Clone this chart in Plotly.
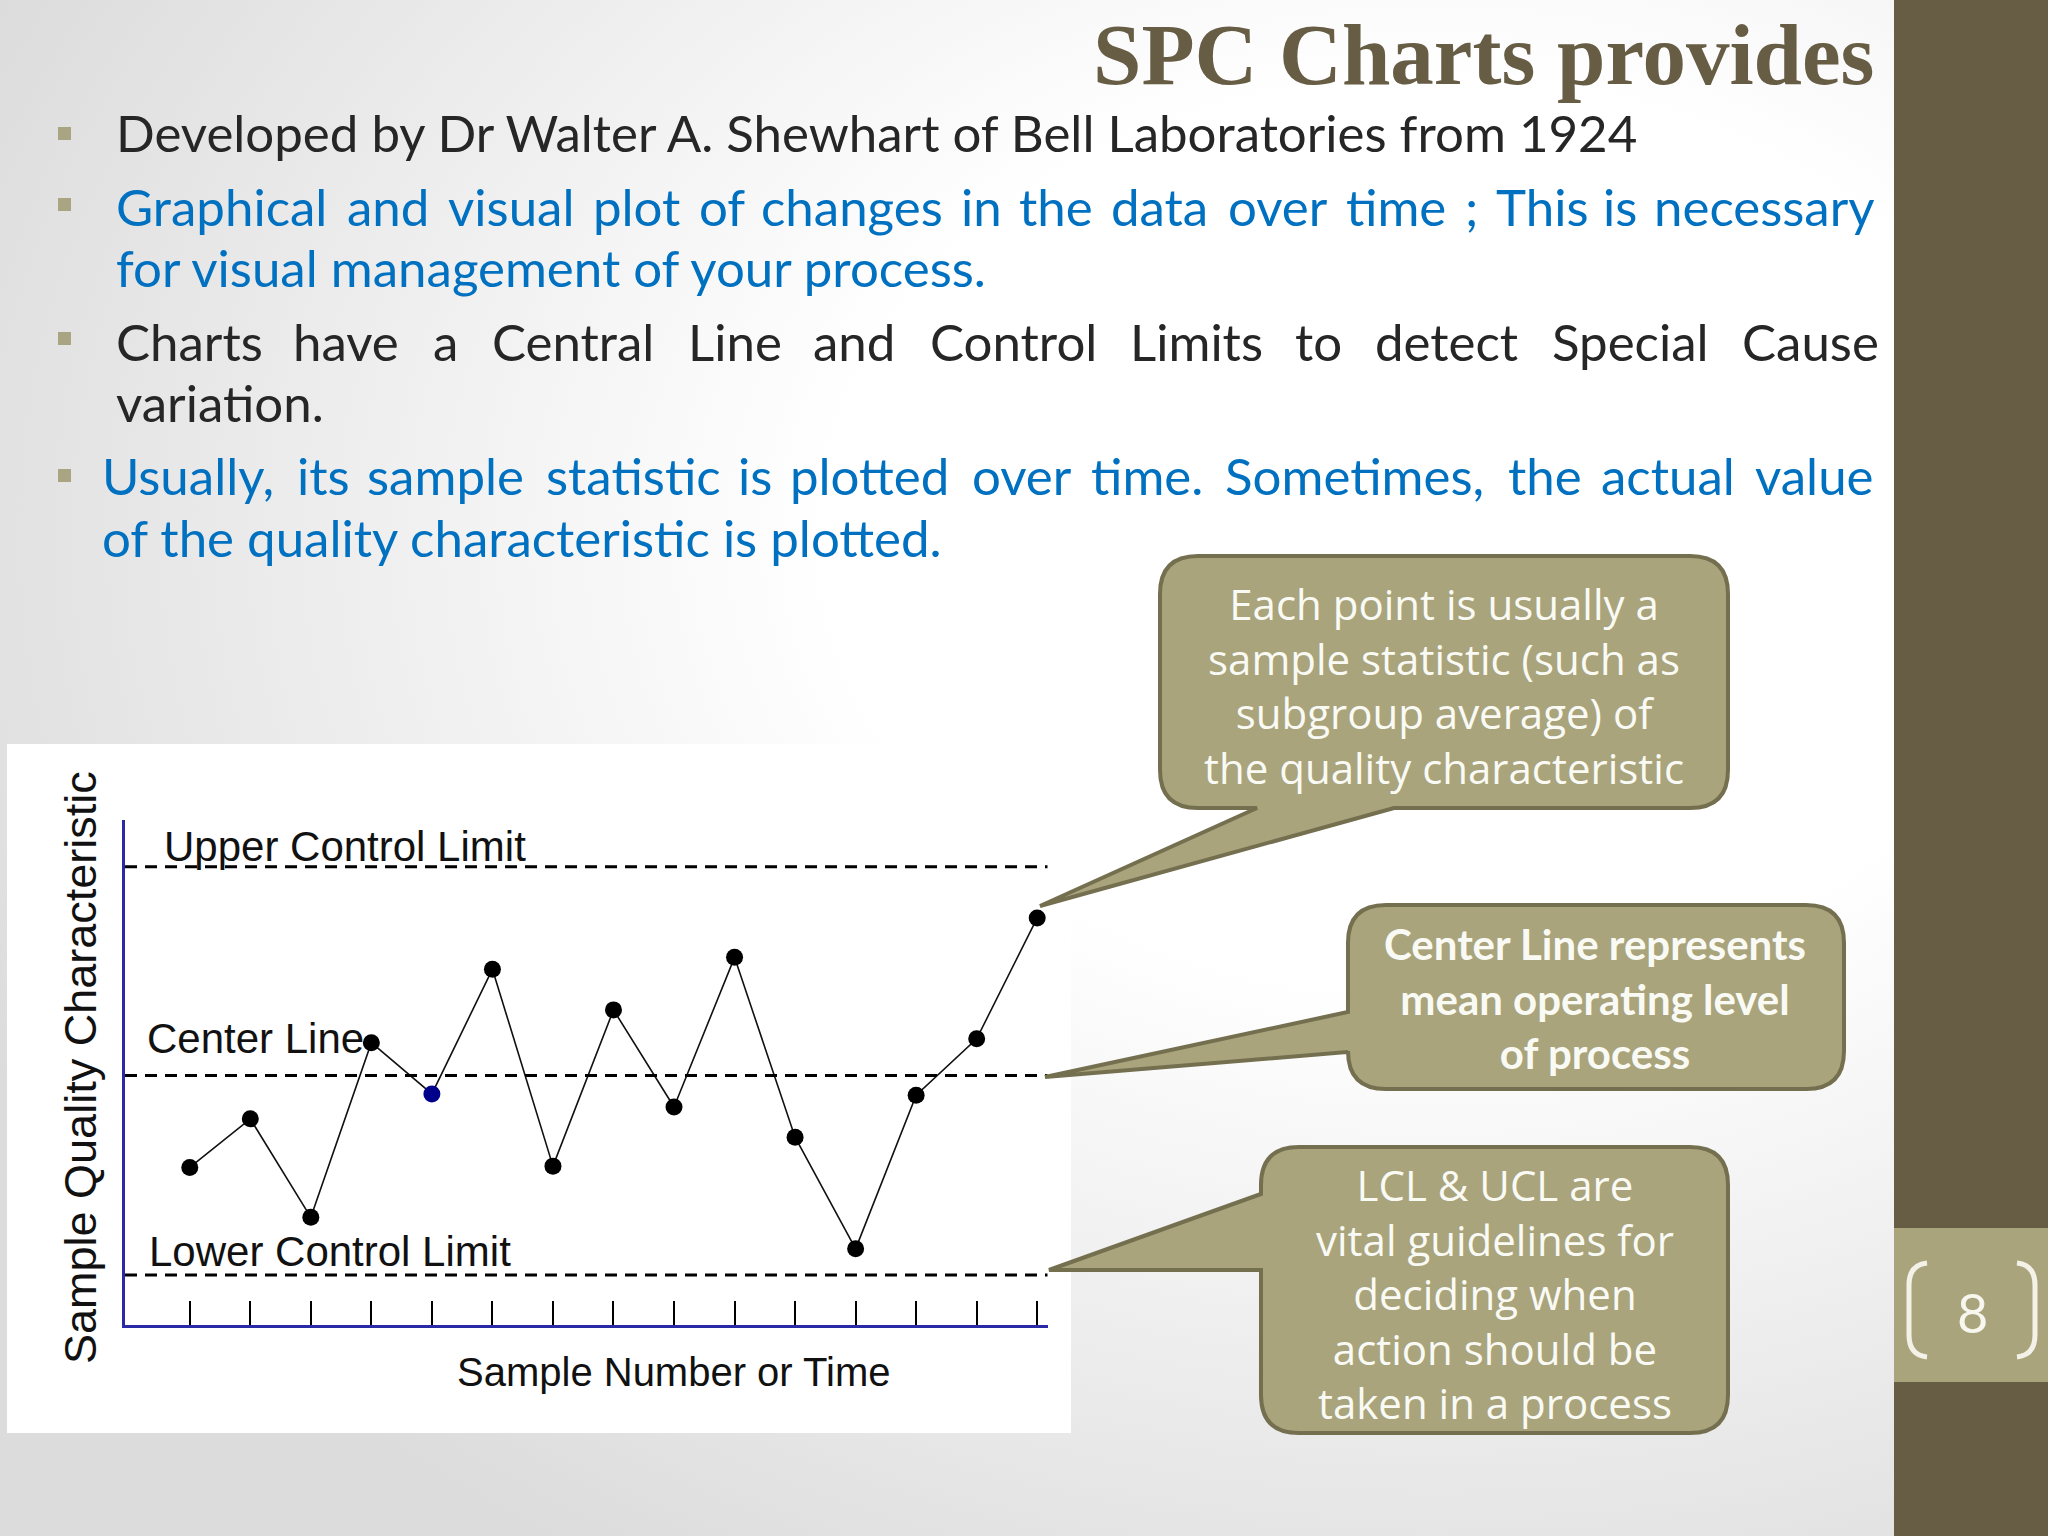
import base64
import plotly.graph_objects as go

W, H = 2048, 1536

# --- chart values ---
sample_no = list(range(1, 16))
sample_stat = [12.0, 15.7, 8.2, 21.5, 17.6, 27.1, 12.1, 24.0, 16.6, 28.0, 14.3, 5.8, 17.5, 21.8, 31.0]
ucl_value = 34.9
cl_value = 19.0
lcl_value = 3.8
limit_names = ["Upper Control Limit", "Center Line", "Lower Control Limit"]
x_title = "Sample Number or Time"
y_title = "Sample Quality Characteristic"

# --- slide texts ---
slide_title = "SPC Charts provides"
bullet_lines = [
    "Developed by Dr Walter A. Shewhart of Bell Laboratories from 1924",
    "Graphical and visual plot of changes in the data over time ; This is necessary",
    "for visual management of your process.",
    "Charts have a Central Line and Control Limits to detect Special Cause",
    "variation.",
    "Usually, its sample statistic is plotted over time. Sometimes, the actual value",
    "of the quality characteristic is plotted.",
]
callout_texts = [
    ["Each point is usually a", "sample statistic (such as", "subgroup average) of", "the quality characteristic"],
    ["Center Line represents", "mean operating level", "of process"],
    ["LCL & UCL are", "vital guidelines for", "deciding when", "action should be", "taken in a process"],
]
page_number = "8"

# colours / fonts
OLIVE_DARK = "#675D45"
OLIVE_LIGHT = "#A9A47C"
OLIVE_LINE = "#746F4F"
TEXT_DARK = "#262626"
TEXT_BLUE = "#0070C0"
BODY_FONT = "Lato, 'Open Sans', sans-serif"
CALLOUT_FONT = "'Open Sans', Lato, sans-serif"
CHART_FONT = "'Liberation Sans', Arial, sans-serif"


# pixel -> paper helpers (slide is laid out in pixels, top-left origin)
def px(x):
    return x / W


def py(y):
    return 1 - y / H


def P(x, y):
    return f"{px(x):.5f},{py(y):.5f}"


def callout_path(x0, y0, x1, y1, r, side, base, tip):
    cmds = [f"M{P(x0 + r, y0)}", f"L{P(x1 - r, y0)}", f"Q{P(x1, y0)} {P(x1, y0 + r)}",
            f"L{P(x1, y1 - r)}", f"Q{P(x1, y1)} {P(x1 - r, y1)}"]
    if side == "bottom":
        cmds += [f"L{P(base[1], y1)}", f"L{P(*tip)}", f"L{P(base[0], y1)}"]
    cmds += [f"L{P(x0 + r, y1)}", f"Q{P(x0, y1)} {P(x0, y1 - r)}"]
    if side == "left":
        cmds += [f"L{P(x0, base[1])}", f"L{P(*tip)}", f"L{P(x0, base[0])}"]
    cmds += [f"L{P(x0, y0 + r)}", f"Q{P(x0, y0)} {P(x0 + r, y0)}", "Z"]
    return " ".join(cmds)


def text_ann(x, y, text, size, color, family, anchor="left", **kw):
    return dict(xref="paper", yref="paper", x=px(x), y=py(y), text=text, showarrow=False,
                xanchor=anchor, yanchor="middle",
                font=dict(family=family, size=size, color=color), **kw)


fig = go.Figure()

# control chart line with markers (5th point is blue in the original)
marker_colors = ["#00008B" if i == 4 else "#000000" for i in range(len(sample_no))]
fig.add_trace(go.Scatter(
    x=sample_no, y=sample_stat, mode="lines+markers",
    line=dict(color="#111111", width=1.6),
    marker=dict(size=17, color=marker_colors),
    showlegend=False, hoverinfo="x+y",
))

# UCL / CL / LCL dashed lines
for val in [ucl_value, cl_value, lcl_value]:
    fig.add_hline(y=val, line=dict(color="#000000", width=3, dash="12px,8px"))

shapes = []
annotations = []

# sidebar + page number box
shapes.append(dict(type="rect", xref="paper", yref="paper", x0=px(1894), x1=1, y0=0, y1=1,
                   fillcolor=OLIVE_DARK, line_width=0, layer="below"))
shapes.append(dict(type="rect", xref="paper", yref="paper", x0=px(1894), x1=1, y0=py(1382), y1=py(1228),
                   fillcolor=OLIVE_LIGHT, line_width=0, layer="below"))
# white box behind the chart
shapes.append(dict(type="rect", xref="paper", yref="paper", x0=px(7), x1=px(1071), y0=py(1433), y1=py(744),
                   fillcolor="white", line_width=0, layer="below"))

# page number brackets
left_br = f"M{P(1927, 1263)} Q{P(1909, 1265)} {P(1909, 1285)} L{P(1909, 1335)} Q{P(1909, 1355)} {P(1927, 1357)}"
right_br = f"M{P(2017, 1263)} Q{P(2035, 1265)} {P(2035, 1285)} L{P(2035, 1335)} Q{P(2035, 1355)} {P(2017, 1357)}"
for p in [left_br, right_br]:
    shapes.append(dict(type="path", xref="paper", yref="paper", path=p,
                       line=dict(color="#F4F2E8", width=5)))
annotations.append(text_ann(1972, 1312, page_number, 54, "#F7F6EF", BODY_FONT, anchor="center"))

# title
annotations.append(text_ann(1876, 55, f"<b>{slide_title}</b>", 87, OLIVE_DARK,
                            "'Liberation Serif', 'DejaVu Serif', serif", anchor="right"))

# bullet squares
for by in [133, 204, 338, 475]:
    shapes.append(dict(type="rect", xref="paper", yref="paper", x0=px(58), x1=px(71),
                       y0=py(by + 7), y1=py(by - 6), fillcolor="#A9A582", line_width=0))

# bullet text lines; the justified lines are placed word by word
line_x = [114, 114, 114, 114, 114, 100, 100]
line_y = [132, 206, 268, 341, 402, 475, 537]
line_color = [TEXT_DARK, TEXT_BLUE, TEXT_BLUE, TEXT_DARK, TEXT_DARK, TEXT_BLUE, TEXT_BLUE]
word_x = {
    1: [114, 345, 446, 591, 697, 759, 959, 1017, 1109, 1226, 1344, 1463, 1494, 1601, 1652],
    3: [114, 291, 431, 490, 686, 811, 928, 1128, 1293, 1373, 1550, 1740],
    5: [100, 295, 365, 544, 736, 788, 970, 1089, 1223, 1506, 1599, 1753],
}
BODY_SIZE = 51
for i, line in enumerate(bullet_lines):
    if i in word_x:
        for w, wx in zip(line.split(" "), word_x[i]):
            annotations.append(text_ann(wx, line_y[i], w, BODY_SIZE, line_color[i], BODY_FONT))
    else:
        annotations.append(text_ann(line_x[i], line_y[i], line, BODY_SIZE, line_color[i], BODY_FONT))

# callouts
callouts = [
    dict(box=(1160, 556, 1728, 808), side="bottom", base=(1257, 1394), tip=(1040, 906),
         cx=1444, cy=685, bold=False),
    dict(box=(1348, 905, 1844, 1089), side="left", base=(1012, 1052), tip=(1045, 1077),
         cx=1595, cy=998, bold=True),
    dict(box=(1261, 1147, 1728, 1433), side="left", base=(1194, 1270), tip=(1049, 1270),
         cx=1495, cy=1293, bold=False),
]
for c, lines in zip(callouts, callout_texts):
    x0, y0, x1, y1 = c["box"]
    shapes.append(dict(type="path", xref="paper", yref="paper",
                       path=callout_path(x0, y0, x1, y1, 38, c["side"], c["base"], c["tip"]),
                       fillcolor=OLIVE_LIGHT, line=dict(color=OLIVE_LINE, width=4)))
    if c["bold"]:
        txt = "<br>".join(f"<b>{l}</b>" for l in lines)
        fam = BODY_FONT
    else:
        txt = "<br>".join(lines)
        fam = CALLOUT_FONT
    annotations.append(text_ann(c["cx"], c["cy"], txt, 42, "#FAFAF5", fam, anchor="center", align="center"))

# chart labels
for name, (lx, ly) in zip(limit_names, [(162, 846), (145, 1038), (147, 1251)]):
    annotations.append(text_ann(lx, ly, name, 42, "#111111", CHART_FONT))
annotations.append(text_ann(673, 1372, x_title, 40, "#111111", CHART_FONT, anchor="center"))
annotations.append(text_ann(80, 1068, y_title, 45, "#111111", CHART_FONT, anchor="center", textangle=-90))

# slide background: soft radial grey-to-white gradient
svg = ('<svg xmlns="http://www.w3.org/2000/svg" width="2048" height="1536" preserveAspectRatio="none">'
       '<defs><radialGradient id="g" cx="0.7" cy="0.35" r="0.78">'
       '<stop offset="0.38" stop-color="#ffffff"/><stop offset="1" stop-color="#dcdcdc"/>'
       '</radialGradient></defs><rect width="2048" height="1536" fill="url(#g)"/></svg>')
bg_src = "data:image/svg+xml;base64," + base64.b64encode(svg.encode()).decode()

fig.update_layout(
    width=W, height=H,
    margin=dict(l=0, r=0, t=0, b=0),
    paper_bgcolor="white",
    plot_bgcolor="rgba(0,0,0,0)",
    showlegend=False,
    shapes=fig.layout.shapes + tuple(shapes),
    annotations=annotations,
    images=[dict(source=bg_src, xref="paper", yref="paper", x=0, y=1, sizex=1, sizey=1,
                 xanchor="left", yanchor="top", sizing="stretch", layer="below")],
    xaxis=dict(domain=[px(125), px(1047.5)], range=[-0.07, 15.17], showgrid=False, zeroline=False,
               showline=True, linecolor="#2A2AA6", linewidth=2.5,
               tickvals=sample_no, ticks="inside", ticklen=24, tickwidth=2, tickcolor="#000000",
               showticklabels=False, fixedrange=True),
    yaxis=dict(domain=[py(1325), py(819.5)], range=[0, 38.5], showgrid=False, zeroline=False,
               showline=True, linecolor="#2A2AA6", linewidth=2.5, ticks="", showticklabels=False,
               fixedrange=True),
)

# drop the page's default body margin so the slide sits at the window's corner, hide the toolbar
fig.write_html("out.html", config={"displayModeBar": False},
               post_script="document.body.style.margin='0';")
